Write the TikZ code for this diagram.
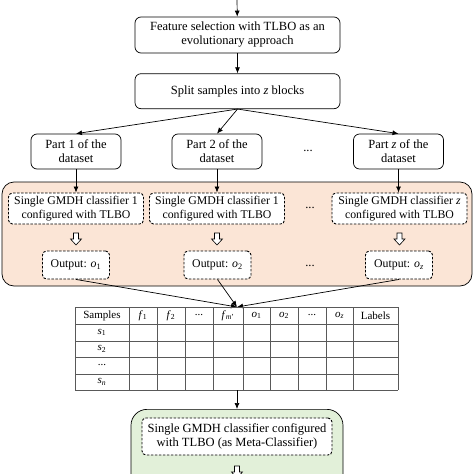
\documentclass[tikz,border=0pt]{standalone}
\usepackage{fontspec}
\setmainfont{Liberation Serif}
\usetikzlibrary{positioning}
\usetikzlibrary{arrows.meta}
\definecolor{orangebg}{HTML}{FBE5D6}
\definecolor{greenbg}{HTML}{E2F0D9}
\definecolor{gridgray}{gray}{0.35}
\newcommand{\svar}[2]{\textit{#1}\textsubscript{#2}}
\newcommand{\tdots}{...}

\begin{document}
\begin{tikzpicture}[x=1pt,y=-1pt,>={Latex[length=6pt,width=5pt]},
	every node/.style={font=\fontsize{12.5}{14}\selectfont,inner sep=0pt,align=center},
	stagebox/.style={draw,rounded corners=6pt,line width=0.7pt,fill=white},
	dashbox/.style={draw,dash pattern=on 2.5pt off 1.5pt,rounded corners=4pt,line width=0.9pt,fill=white,font=\fontsize{11.8}{13.5}\selectfont},
	groupbox/.style={draw,rounded corners=12pt,line width=0.7pt},
	cell/.style={font=\fontsize{11}{13}\selectfont},
	hollowarrow/.pic={\draw[line width=0.6pt,fill=white] (-2.5,-6) -- (2.5,-6) -- (2.5,0) -- (5.5,0) -- (0,6) -- (-5.5,0) -- (-2.5,0) -- cycle;}]
		\useasboundingbox (0,0) rectangle (474,474);
		% first stages
		\coordinate (in) at (237,-2);
		\node[stagebox,minimum width=205pt,minimum height=36pt] (feat) at (237.5,35) {Feature selection with TLBO as an\\evolutionary approach};
		\node[stagebox,minimum width=205pt,minimum height=35pt,below=20pt of feat] (split) {Split samples into \textit{z} blocks};
		\draw[->,line width=0.7pt] (in) -- (feat);
		\draw[->,line width=0.7pt] (feat) -- (split);
		\node[stagebox,minimum width=90pt,minimum height=35pt] (p1) at (76,151.5) {Part 1 of the\\dataset};
		\node[stagebox,minimum width=90pt,minimum height=35pt] (p2) at (217,151.5) {Part 2 of the\\dataset};
		\node[stagebox,minimum width=90pt,minimum height=35pt] (pz) at (398.5,151.5) {Part \textit{z} of the\\dataset};
		\node (pdots) at (308,151) {\tdots};
		\draw[->,line width=0.7pt] (split.south) -- (p1.north);
		\draw[->,line width=0.7pt] (split.south) -- (p2.north);
		\draw[->,line width=0.7pt] (split.south) -- (pz.north);
		% base classifiers
		\node[groupbox,fill=orangebg,minimum width=470pt,minimum height=104pt] (ens) at (237,234) {};
		\node[dashbox,minimum width=135pt,minimum height=31pt] (c1) at (76,208.5) {Single GMDH classifier 1\\configured with TLBO};
		\node[dashbox,minimum width=135pt,minimum height=31pt] (c2) at (217,208.5) {Single GMDH classifier 1\\configured with TLBO};
		\node[dashbox,minimum width=135pt,minimum height=31pt] (cz) at (399.5,208.5) {Single GMDH classifier \textit{z}\\configured with TLBO};
		\node (cdots) at (310,208) {\tdots};
		\draw[->,line width=0.7pt] (p1) -- (c1);
		\draw[->,line width=0.7pt] (p2) -- (c2);
		\draw[->,line width=0.7pt] (pz.south) -- (pz.south |- cz.north);
		\pic at (76,239) {hollowarrow};
		\pic at (217,239) {hollowarrow};
		\pic at (399.5,239) {hollowarrow};
		\node[dashbox,minimum width=67pt,minimum height=28pt] (o1) at (76,265) {Output: \svar{o}{1}};
		\node[dashbox,minimum width=67pt,minimum height=28pt] (o2) at (217.5,265) {Output: \svar{o}{2}};
		\node[dashbox,minimum width=67pt,minimum height=28pt] (oz) at (399,265) {Output: \svar{o}{\textit{z}}};
		\node (odots) at (310,266) {\tdots};
		% table
		\coordinate (tbltop) at (237,307);
		\coordinate (tblbot) at (237,390);
		\draw[->,line width=0.7pt] (o1.south) -- (tbltop);
		\draw[->,line width=0.7pt] (o2.south) -- (tbltop);
		\draw[->,line width=0.7pt] (oz.south) -- (tbltop);
		\foreach \x in {75,129,157,185,213,243,270,298,326,353,398}
			\draw[gridgray,line width=0.7pt] (\x,307) -- (\x,390);
		\foreach \y in {307,324,341,357,374,390}
			\draw[gridgray,line width=0.7pt] (75,\y) -- (398,\y);
		\foreach [count=\i] \x/\lbl in {102/Samples,143/\svar{f}{1},171/\svar{f}{2},199/\tdots,228/{\textit{f}\textsubscript{\textit{m}'}},256.5/\svar{o}{1},284/\svar{o}{2},312/\tdots,339.5/\svar{o}{\textit{z}},375.5/Labels}
			\node[cell] (h\i) at (\x,315.5) {\lbl};
		\foreach [count=\i] \y/\lbl in {332.5/\svar{s}{1},349/\svar{s}{2},365.5/\tdots,382/\svar{s}{\textit{n}}}
			\node[cell] (r\i) at (102,\y) {\lbl};
		% meta classifier
		\node[groupbox,rounded corners=16pt,fill=greenbg,minimum width=212pt,minimum height=100pt,anchor=north] (metabg) at (237,409) {};
		\draw[->,line width=0.7pt] (tblbot) -- (metabg.north);
		\node[dashbox,font=\fontsize{12.5}{14}\selectfont,minimum width=190pt,minimum height=37pt] (meta) at (237,436.5) {Single GMDH classifier configured\\with TLBO (as Meta-Classifier)};
		\pic at (237,472) {hollowarrow};
	\end{tikzpicture}
\end{document}
